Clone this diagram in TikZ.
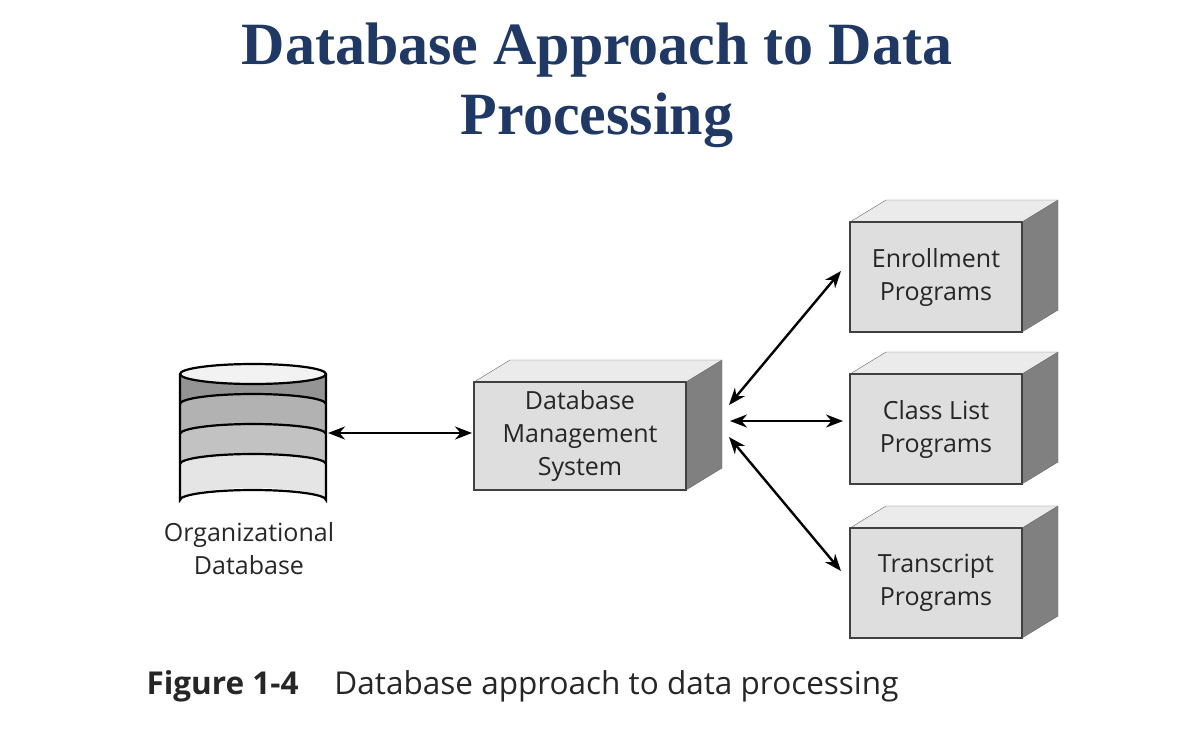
\documentclass[tikz,border=0pt]{standalone}
\usepackage{fontspec}
\setmainfont{Open Sans}
\newfontfamily\titlefont{Liberation Serif}
\usetikzlibrary{arrows.meta}
\definecolor{titleblue}{HTML}{1F3864}
\tikzset{
  lbl/.style={font=\fontsize{25}{33}\selectfont, align=center, text=black!85},
  arr/.style={{Stealth[length=17pt,width=13pt]}-{Stealth[length=17pt,width=13pt]}, line width=2.4pt},
  face/.style={draw=black!75, line width=1.2pt},
}
% cube: #1 name, #2 left x, #3 top y, #4 width, #5 height, #6 text
\newcommand{\mycube}[6]{%
  \fill[black!8] (#2,#3) -- ++(36,-22) -- ++(#4,0) -- ++(-36,22) -- cycle;
  \fill[black!50] (#2+#4,#3) -- ++(36,-22) -- ++(0,#5) -- ++(-36,22) -- cycle;
  \draw[face, fill=black!13] (#2,#3) rectangle ++(#4,#5);
  \draw[black!60] (#2,#3) -- ++(36,-22) -- ++(#4,0) -- ++(0,#5) -- ++(-36,22);
  \draw[black!60] (#2+#4,#3) -- ++(36,-22);
  \node[lbl] (#1) at (#2+#4/2,#3+#5/2) {#6};
}
\begin{document}
\begin{tikzpicture}[x=1pt,y=-1pt]
\useasboundingbox (0,0) rectangle (1194,732);
\node[font=\titlefont\bfseries\fontsize{60}{70}\selectfont, text=titleblue, align=center] (title) at (597,85) {Database Approach to Data\\Processing};
% cylinder
\begin{scope}[line width=2.2pt]
\fill[black!10] (180,374) -- (180,500) arc[start angle=180,end angle=360,x radius=73,y radius=12] -- (326,374) -- cycle;
\fill[black!42] (180,374) rectangle (326,404);
\fill[black!42] (180,404) arc[start angle=180,end angle=360,x radius=73,y radius=10] -- cycle;
\fill[black!30] (180,404) arc[start angle=180,end angle=360,x radius=73,y radius=10] -- (326,434) arc[start angle=0,end angle=180,x radius=73,y radius=-10] -- cycle;
\fill[black!24] (180,434) arc[start angle=180,end angle=360,x radius=73,y radius=10] -- (326,464) arc[start angle=0,end angle=180,x radius=73,y radius=-10] -- cycle;
\draw[fill=black!5] (253,374) ellipse[x radius=73,y radius=10];
\draw (180,374) -- (180,500) arc[start angle=180,end angle=360,x radius=73,y radius=10] -- (326,374);
\draw (180,404) arc[start angle=180,end angle=360,x radius=73,y radius=10];
\draw (180,434) arc[start angle=180,end angle=360,x radius=73,y radius=10];
\draw (180,464) arc[start angle=180,end angle=360,x radius=73,y radius=10];
\end{scope}
\coordinate (db) at (328,433);
\node[lbl] (dblabel) at (249,549) {Organizational\\Database};
\mycube{dbms}{474}{382}{212}{108}{Database\\Management\\System}
\mycube{enr}{850}{222}{172}{110}{Enrollment\\Programs}
\mycube{cls}{850}{374}{172}{110}{Class List\\Programs}
\mycube{trn}{850}{528}{172}{110}{Transcript\\Programs}
\coordinate (d1) at (729,405);
\coordinate (d2) at (730,421);
\coordinate (d3) at (729,437);
\coordinate (e) at (841,271);
\coordinate (c) at (843,421);
\coordinate (t) at (841,571);
\draw[arr] (db) -- (472,433);
\draw[arr] (d1) -- (e);
\draw[arr] (d2) -- (c);
\draw[arr] (d3) -- (t);
\node[anchor=west, font=\fontsize{31.5}{36}\selectfont, text=black!85] (cap) at (143,686) {\textbf{Figure 1-4}\hspace{36pt}Database approach to data processing};
\end{tikzpicture}
\end{document}
